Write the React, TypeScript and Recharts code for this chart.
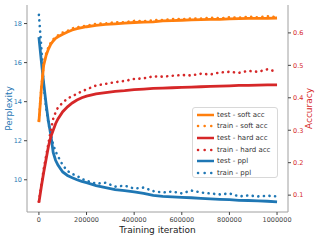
import { ComposedChart, Line, XAxis, YAxis, Label } from 'recharts';

const iterations = [
  0, 10000, 20000, 30000, 40000, 50000, 60000, 70000, 80000, 100000, 120000, 140000, 160000,
  180000, 200000, 240000, 280000, 320000, 360000, 400000, 440000, 480000, 520000, 560000, 600000,
  640000, 680000, 720000, 760000, 800000, 840000, 880000, 920000, 960000, 1000000,
];

const testPpl = [
  17.3, 16.1, 14.95, 13.9, 12.98, 12.3, 11.4, 11.0, 10.75, 10.4, 10.22, 10.1, 10.0, 9.92, 9.85, 9.7,
  9.6, 9.5, 9.45, 9.38, 9.3, 9.2, 9.15, 9.12, 9.1, 9.08, 9.05, 9.02, 9.0, 8.98, 8.95, 8.94, 8.92,
  8.9, 8.87,
];

const trainPpl = [
  18.45, 16.8, 14.8, 13.7, 12.9, 12.3, 11.8, 11.45, 11.2, 10.75, 10.45, 10.3, 10.2, 10.05, 9.95, 9.8,
  9.85, 9.65, 9.7, 9.55, 9.6, 9.42, 9.35, 9.4, 9.3, 9.45, 9.35, 9.3, 9.25, 9.3, 9.15, 9.2, 9.15,
  9.18, 9.15,
];

const testSoftAcc = [
  0.325, 0.425, 0.5, 0.53, 0.55, 0.565, 0.575, 0.583, 0.588, 0.596, 0.603, 0.609, 0.613, 0.616,
  0.619, 0.623, 0.626, 0.628, 0.63, 0.632, 0.633, 0.634, 0.637, 0.638, 0.639, 0.64, 0.641, 0.642,
  0.642, 0.643, 0.644, 0.645, 0.645, 0.645, 0.646,
];

const trainSoftAcc = [
  0.33, 0.43, 0.505, 0.535, 0.556, 0.57, 0.58, 0.588, 0.592, 0.601, 0.606, 0.614, 0.617, 0.621,
  0.622, 0.628, 0.629, 0.633, 0.633, 0.637, 0.636, 0.639, 0.64, 0.643, 0.642, 0.645, 0.644, 0.647,
  0.645, 0.648, 0.647, 0.65, 0.648, 0.651, 0.649,
];

const testHardAcc = [
  0.077, 0.125, 0.17, 0.21, 0.25, 0.28, 0.3, 0.32, 0.335, 0.357, 0.372, 0.384, 0.393, 0.4, 0.405,
  0.412, 0.416, 0.42, 0.422, 0.425, 0.427, 0.429, 0.43, 0.431, 0.432, 0.433, 0.434, 0.435, 0.436,
  0.437, 0.438, 0.438, 0.439, 0.44, 0.44,
];

const trainHardAcc = [
  0.08, 0.13, 0.18, 0.22, 0.26, 0.3, 0.335, 0.355, 0.37, 0.385, 0.398, 0.405, 0.412, 0.42, 0.426,
  0.438, 0.443, 0.448, 0.452, 0.458, 0.46, 0.466, 0.465, 0.468, 0.47, 0.469, 0.474, 0.472, 0.478,
  0.48, 0.477, 0.483, 0.48, 0.488, 0.48,
];

const xTicks = [0, 200000, 400000, 600000, 800000, 1000000];
const pplTicks = [10, 12, 14, 16, 18];
const accTicks = [0.1, 0.2, 0.3, 0.4, 0.5, 0.6];

const BLUE = '#1f77b4';
const ORANGE = '#ff7f0e';
const RED = '#d62728';
const SPINE = '#a0a0a0';
const DOTS = '0.1 5.5';

const data = iterations.map((iter, i) => ({
  iter,
  testPpl: testPpl[i],
  trainPpl: trainPpl[i],
  testSoftAcc: testSoftAcc[i],
  trainSoftAcc: trainSoftAcc[i],
  testHardAcc: testHardAcc[i],
  trainHardAcc: trainHardAcc[i],
}));

const legendItems = [
  { label: 'test - soft acc', color: ORANGE, dotted: false },
  { label: 'train - soft acc', color: ORANGE, dotted: true },
  { label: 'test - hard acc', color: RED, dotted: false },
  { label: 'train - hard acc', color: RED, dotted: true },
  { label: 'test - ppl', color: BLUE, dotted: false },
  { label: 'train - ppl', color: BLUE, dotted: true },
];

const font = 'DejaVu Sans, sans-serif';
const tickStyle = { fontSize: 6.5, fontFamily: font };

function ChartLegend() {
  return (
    <div
      style={{
        position: 'absolute',
        left: 192,
        top: 107,
        width: 86,
        height: 71,
        boxSizing: 'border-box',
        border: '1px solid #d8d8d8',
        borderRadius: 3,
        background: 'rgba(255,255,255,0.85)',
        fontFamily: font,
        fontSize: 7,
        color: '#333',
        paddingTop: 1,
      }}
    >
      {legendItems.map((item) => (
        <div key={item.label} style={{ display: 'flex', alignItems: 'center', height: 11.6 }}>
          <svg width={22} height={8} style={{ marginLeft: 2 }}>
            <line
              x1={item.dotted ? 3 : 2}
              x2={19}
              y1={4}
              y2={4}
              stroke={item.color}
              strokeWidth={2.5}
              strokeDasharray={item.dotted ? '0.1 6.5' : undefined}
              strokeLinecap={item.dotted ? 'round' : 'butt'}
            />
          </svg>
          <span style={{ whiteSpace: 'nowrap' }}>{item.label}</span>
        </div>
      ))}
    </div>
  );
}

export default function App() {
  return (
    <div style={{ position: 'absolute', left: 0, top: 0, width: 320, height: 240, background: '#fff' }}>
      <ComposedChart width={320} height={240} data={data} margin={{ top: 5, right: 0, bottom: 0, left: 0 }}>
        <XAxis
          dataKey="iter"
          type="number"
          domain={[-50000, 1046000]}
          ticks={xTicks}
          allowDataOverflow
          height={28}
          tick={{ ...tickStyle, fill: '#444' }}
          tickSize={3}
          tickLine={{ stroke: '#444' }}
          axisLine={{ stroke: SPINE, strokeWidth: 1 }}
        >
          <Label value="Training iteration" position="insideBottom" offset={7} style={{ fontSize: 9, fontFamily: font, fill: '#222' }} />
        </XAxis>
        <XAxis
          xAxisId="top"
          dataKey="iter"
          type="number"
          orientation="top"
          domain={[-50000, 1046000]}
          height={0}
          tick={false}
          tickLine={false}
          axisLine={{ stroke: SPINE, strokeWidth: 1 }}
        />
        <YAxis
          yAxisId="ppl"
          domain={[8.35, 18.95]}
          ticks={pplTicks}
          allowDataOverflow
          width={27}
          tick={{ ...tickStyle, fill: BLUE }}
          tickSize={3}
          tickLine={{ stroke: '#444' }}
          axisLine={{ stroke: SPINE, strokeWidth: 1 }}
        >
          <Label value="Perplexity" angle={-90} position="insideLeft" offset={9} style={{ fontSize: 9, fontFamily: font, fill: BLUE, textAnchor: 'middle' }} />
        </YAxis>
        <YAxis
          yAxisId="acc"
          orientation="right"
          domain={[0.048, 0.686]}
          ticks={accTicks}
          allowDataOverflow
          width={32}
          tick={{ ...tickStyle, fill: RED }}
          tickSize={3}
          tickLine={{ stroke: '#444' }}
          axisLine={{ stroke: SPINE, strokeWidth: 1 }}
        >
          <Label value="Accuracy" angle={-90} position="insideRight" offset={11} style={{ fontSize: 9, fontFamily: font, fill: RED, textAnchor: 'middle' }} />
        </YAxis>
        <Line yAxisId="ppl" dataKey="testPpl" stroke={BLUE} strokeWidth={2.8} dot={false} isAnimationActive={false} />
        <Line yAxisId="ppl" dataKey="trainPpl" stroke={BLUE} strokeWidth={2.6} strokeDasharray={DOTS} strokeLinecap="round" dot={false} isAnimationActive={false} />
        <Line yAxisId="acc" dataKey="testSoftAcc" stroke={ORANGE} strokeWidth={2.8} dot={false} isAnimationActive={false} />
        <Line yAxisId="acc" dataKey="trainSoftAcc" stroke={ORANGE} strokeWidth={2.6} strokeDasharray={DOTS} strokeLinecap="round" dot={false} isAnimationActive={false} />
        <Line yAxisId="acc" dataKey="testHardAcc" stroke={RED} strokeWidth={2.8} dot={false} isAnimationActive={false} />
        <Line yAxisId="acc" dataKey="trainHardAcc" stroke={RED} strokeWidth={2.6} strokeDasharray={DOTS} strokeLinecap="round" dot={false} isAnimationActive={false} />
      </ComposedChart>
      <ChartLegend />
    </div>
  );
}
